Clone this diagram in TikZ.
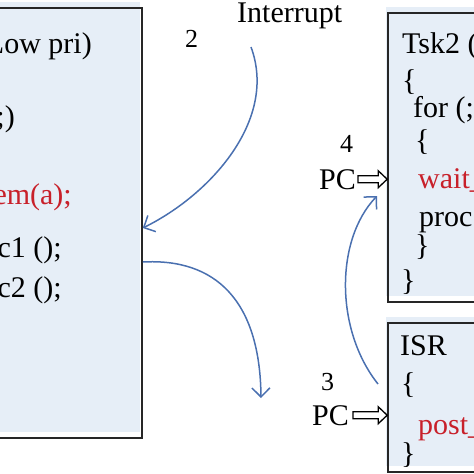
\documentclass[tikz,border=0pt]{standalone}
\usepackage{fontspec}
\setmainfont{Liberation Serif}
\usetikzlibrary{arrows.meta,shadows,calc}

\definecolor{boxblue}{RGB}{230,238,247}
\definecolor{arcblue}{RGB}{74,112,176}
\definecolor{semred}{RGB}{200,32,42}

% hollow arrow from #1 to the edge #2
\newcommand\hollowto[2]{%
	\draw[line width=1.3pt,fill=white,line join=miter]
	let \p1=(#1), \p2=(#2) in
	(\x1,\y1-3.5pt) -- (\x2-9pt,\y1-3.5pt) -- (\x2-9pt,\y1-8.5pt) -- (\x2,\y1)
	-- (\x2-9pt,\y1+8.5pt) -- (\x2-9pt,\y1+3.5pt) -- (\x1,\y1+3.5pt) -- cycle;}

\begin{document}
\begin{tikzpicture}[x=1pt,y=-1pt]
	\tikzstyle{every node}=[inner sep=0pt,font=\fontsize{30}{35}\selectfont]
	\tikzstyle{codebox}=[draw=black!85,line width=1.6pt,minimum width=142pt,
	general shadow={fill=boxblue,shadow xshift=-2pt,shadow yshift=6pt}]
	\tikzstyle{codeline}=[anchor=base west]
	\tikzstyle{cutline}=[anchor=base east]
	\tikzstyle{num}=[anchor=base west,font=\fontsize{26}{30}\selectfont]
	\tikzstyle{flow}=[draw=arcblue,line width=1.5pt,
	-{Straight Barb[length=9pt,width=18pt]}]

	\useasboundingbox (0,0) rectangle (474,474);
	\clip (0,0) rectangle (474,474);

	% the three code boxes
	\node[codebox,minimum width=204pt,minimum height=430pt] (tsk1) at (40,223) {};
	\node[codebox,minimum height=289pt] (tsk2) at (459,157.5) {};
	\node[codebox,minimum height=149pt] (isr) at (459,397.5) {};

	% low priority task
	\node[cutline] (t1a) at (92,53) {Low pri)};
	\node[cutline] (t1b) at (15,126) {;)};
	\node[cutline,text=semred] (t1c) at (72,204) {em(a);};
	\node[cutline] (t1d) at (62,257) {c1 ();};
	\node[cutline] (t1e) at (62,297) {c2 ();};

	% second task
	\node[codeline] (t2a) at (402,53) {Tsk2 (};
	\node[codeline] (t2b) at (402,90) {\{};
	\node[codeline] (t2c) at (413,117) {for (;};
	\node[codeline] (t2d) at (415,150) {\{};
	\node[codeline,text=semred] (t2e) at (418,188) {wait\_};
	\node[codeline] (t2f) at (419,226) {proc};
	\node[codeline] (t2g) at (415,255) {\}};
	\node[codeline] (t2h) at (401,290) {\}};

	% interrupt routine
	\node[codeline] (i1) at (400,355) {ISR};
	\node[codeline] (i2) at (401,393) {\{};
	\node[codeline,text=semred] (i3) at (418,434) {post\_};
	\node[codeline] (i4) at (401,463) {\}};

	% step labels
	\node[num] (n2) at (185,47) {2};
	\node[codeline] (irq) at (237,22) {Interrupt};
	\node[num] (n4) at (340,152) {4};
	\node[codeline] (pc4) at (319,189) {PC};
	\node[num] (n3) at (321,390) {3};
	\node[codeline] (pc3) at (312,425) {PC};

	% flow of control
	\coordinate (irqfrom) at (251,47);
	\coordinate (tsk1hit) at (tsk1.east |- 0,228);
	\coordinate (tsk1out) at (tsk1.east |- 0,262);
	\coordinate (isrgo) at (261,398);
	\coordinate (isrback) at (378,384);
	\coordinate (tsk2back) at (377,196);
	\draw[flow] (irqfrom) .. controls (278,120) and (210,195) .. (tsk1hit);
	\draw[flow] (tsk1out) .. controls (215,258) and (260,300) .. (isrgo);
	\draw[flow] (isrback) .. controls (335,330) and (335,240) .. (tsk2back);

	% program counter
	\hollowto{[xshift=2pt]pc4.east}{tsk2.west}
	\hollowto{[xshift=4pt]pc3.east}{isr.west}
\end{tikzpicture}
\end{document}
